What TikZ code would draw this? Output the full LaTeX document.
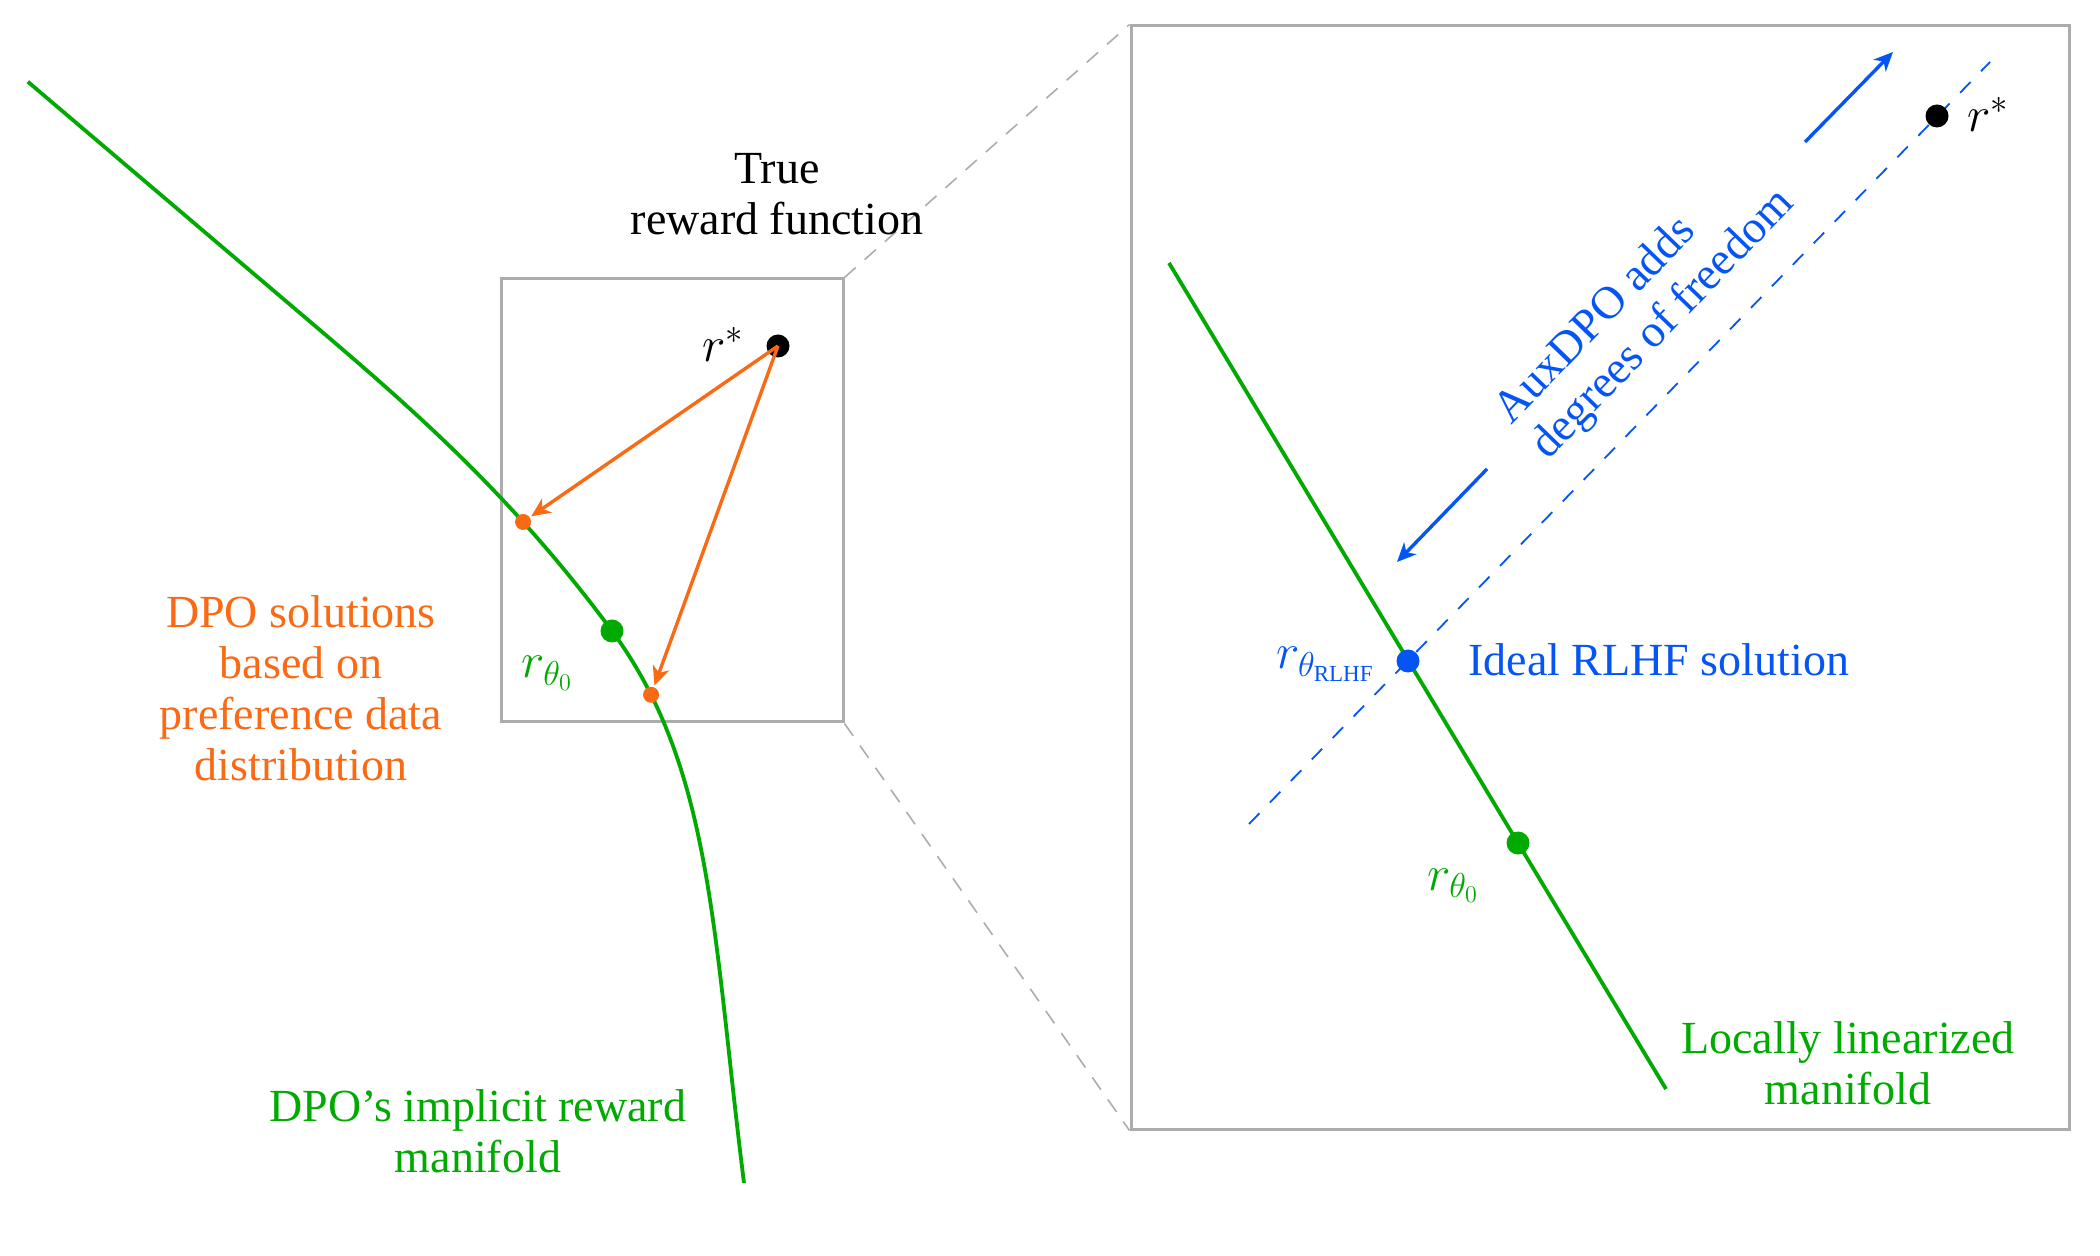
\documentclass[tikz,border=0pt]{standalone}
\usepackage{amsmath}
\usepackage{fontspec}
\setmainfont{Liberation Serif}
\usetikzlibrary{arrows.meta}
\definecolor{dgreen}{RGB}{0,170,0}
\definecolor{dorange}{RGB}{250,105,20}
\definecolor{dblue}{RGB}{5,85,245}
\definecolor{boxgray}{RGB}{172,172,172}
\begin{document}
\begin{tikzpicture}[x=0.5pt,y=-0.5pt,
  font=\fontsize{23}{25.5}\selectfont,
  dot/.style={circle,fill=#1,inner sep=0pt,minimum size=11.5pt},
  sdot/.style={circle,fill=dorange,inner sep=0pt,minimum size=8pt},
  txt/.style={inner sep=0pt,align=center,anchor=north},
  lab/.style={inner sep=0pt},
  arr/.style={-{Stealth[length=9.5pt,width=8.5pt,inset=2.8pt]},line width=1.7pt},
  frame/.style={draw=boxgray,line width=1.5pt,inner sep=0pt},
  zoomline/.style={draw=boxgray,line width=0.8pt,dash pattern=on 7.5pt off 6pt},
  manifold/.style={draw=dgreen,line width=1.9pt},
  dirline/.style={draw=dblue,line width=0.9pt,dash pattern=on 7.5pt off 7.5pt}]
\useasboundingbox (0,0) rectangle (2100,1256);

% ---- frames ----
\node[frame,minimum width=171pt,minimum height=221.5pt] (sbox) at (672,500.5) {};
\node[frame,minimum width=469pt,minimum height=551.5pt] (bbox) at (1600,577.5) {};
\draw[zoomline] (sbox.north east) -- (bbox.north west);
\draw[zoomline] (sbox.south east) -- (bbox.south west);

% ---- left: curved manifold ----
\coordinate (c0) at (27.8,81.7);
\coordinate (k) at (300,313.1);
\coordinate (g0) at (612,631);
\coordinate (c7) at (744,1183);
\draw[manifold] (c0) -- (k)
  .. controls (404,401.5) and (508,489.9) .. (g0)
     node[pos=0.715,sdot] (o1dot) {}
  .. controls (713,767.9) and (712.75,935) .. (c7)
     node[pos=0.15,sdot] (o2dot) {};

\node[dot=dgreen] (g0dot) at (g0) {};
\node[dot=black] (rs) at (778,346) {};
\draw[arr,dorange] (rs.center) -- (o1dot);
\draw[arr,dorange] (rs.center) -- (o2dot);

\node[lab,anchor=base east] (rsl) at (744,362) {$r^*$};
\node[lab,anchor=base west,text=dgreen] (g0l) at (521,678) {$r_{\theta_0}$};
\node[txt] (truelab) at (777,152.5) {True\\reward function};
\node[txt,text=dorange] (dpolab) at (301,595) {DPO solutions\\based on\\preference data\\distribution};
\node[txt,text=dgreen] (manlab) at (478,1089) {DPO’s implicit reward\\manifold};

% ---- right: linearized manifold ----
\coordinate (la) at (1169,263);
\coordinate (lb) at (1666,1089);
\draw[manifold] (la) -- (lb);
\coordinate (da) at (1249,824);
\coordinate (db) at (1990,62);
\draw[dirline] (da) -- (db);

\node[dot=dblue] (rl) at (1408,661) {};
\node[dot=dgreen] (g1) at (1518,843) {};
\node[dot=black] (rs2) at (1937,116) {};

\coordinate (ua1) at (1805,142);
\coordinate (ua2) at (1893,52);
\coordinate (da1) at (1487,469);
\coordinate (da2) at (1397,562);
\draw[arr,dblue] (ua1) -- (ua2);
\draw[arr,dblue] (da1) -- (da2);

\node[lab,anchor=base west] (rs2l) at (1967,132) {$r^*$};
\node[lab,anchor=base east,text=dblue] (rll) at (1375,669) {$r_{\theta_{\text{RLHF}}}$};
\node[lab,anchor=base west,text=dblue] (ideal) at (1468,676) {Ideal RLHF solution};
\node[lab,anchor=base west,text=dgreen] (g1l) at (1427,890) {$r_{\theta_0}$};
\node[txt,text=dgreen] (loclab) at (1848,1021) {Locally linearized\\manifold};
\node[inner sep=0pt,align=left,anchor=north west,rotate=46,text=dblue] (aux) at (1488,403) {AuxDPO adds\\degrees of freedom};
\end{tikzpicture}
\end{document}
